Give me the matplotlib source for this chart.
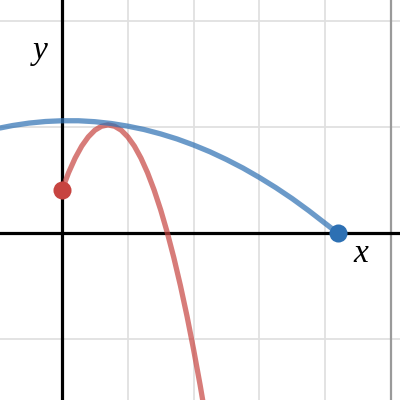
import matplotlib
matplotlib.use("Agg")
import matplotlib.pyplot as plt

# blue trajectory (x units = vertical grid spacing, y units = horizontal grid spacing)
blue_x = [-0.94, -0.75, -0.5, -0.25, 0.0, 0.25, 0.5, 0.75, 1.0, 1.25, 1.5, 1.75,
          2.0, 2.25, 2.5, 2.75, 3.0, 3.25, 3.5, 3.75, 4.0, 4.19]
blue_y = [0.991, 1.014, 1.037, 1.052, 1.059, 1.059, 1.050, 1.033, 1.008, 0.976, 0.935, 0.887,
          0.830, 0.766, 0.693, 0.613, 0.524, 0.428, 0.324, 0.211, 0.091, 0.0]

# red curve, from its starting dot down past the bottom edge
red_x = [0.0, 0.1, 0.2, 0.3, 0.4, 0.5, 0.6, 0.7, 0.8, 0.9, 1.0, 1.1,
         1.2, 1.3, 1.4, 1.5, 1.6, 1.7, 1.8, 1.9, 2.0, 2.1, 2.2]
red_y = [0.406, 0.569, 0.707, 0.820, 0.907, 0.970, 1.007, 1.020, 1.007, 0.970, 0.907, 0.820,
         0.707, 0.569, 0.406, 0.218, 0.005, -0.233, -0.496, -0.784, -1.098, -1.436, -1.799]

red_dot = (0.0, 0.406)
blue_dot = (4.19, 0.0)

x_grid = [1, 2, 3, 4]
y_grid = [-1, 1, 2]

C_BLUE = "#2d70b3"
C_RED = "#c74440"

fig = plt.figure(figsize=(4, 4), dpi=100)
ax = fig.add_axes([0, 0, 1, 1])
ax.set_xlim(-0.942, 5.137)
ax.set_ylim(-1.575, 2.198)
ax.axis("off")

for gx in x_grid:
    ax.axvline(gx, color="#e0e0e0", lw=1.3, zorder=0)
for gy in y_grid:
    ax.axhline(gy, color="#e0e0e0", lw=1.3, zorder=0)
ax.axvline(5, color="#9a9a9a", lw=1.6, zorder=0)

ax.axhline(0, color="black", lw=2.3, zorder=1)
ax.axvline(0, color="black", lw=2.3, zorder=1)

ax.plot(red_x, red_y, color=C_RED, lw=3.8, alpha=0.7, solid_capstyle="round", zorder=2)
ax.plot(blue_x, blue_y, color=C_BLUE, lw=3.8, alpha=0.7, solid_capstyle="round", zorder=3)
ax.plot(*red_dot, marker="o", ms=13, color=C_RED, markeredgewidth=0, zorder=4)
ax.plot(*blue_dot, marker="o", ms=13, color=C_BLUE, markeredgewidth=0, zorder=4)

ax.text(-0.33, 1.72, "y", fontsize=24, family="Liberation Serif", style="italic",
        ha="center", va="center")
ax.text(4.54, -0.20, "x", fontsize=24, family="Liberation Serif", style="italic",
        ha="center", va="center")

fig.savefig("out.png", dpi=100)
